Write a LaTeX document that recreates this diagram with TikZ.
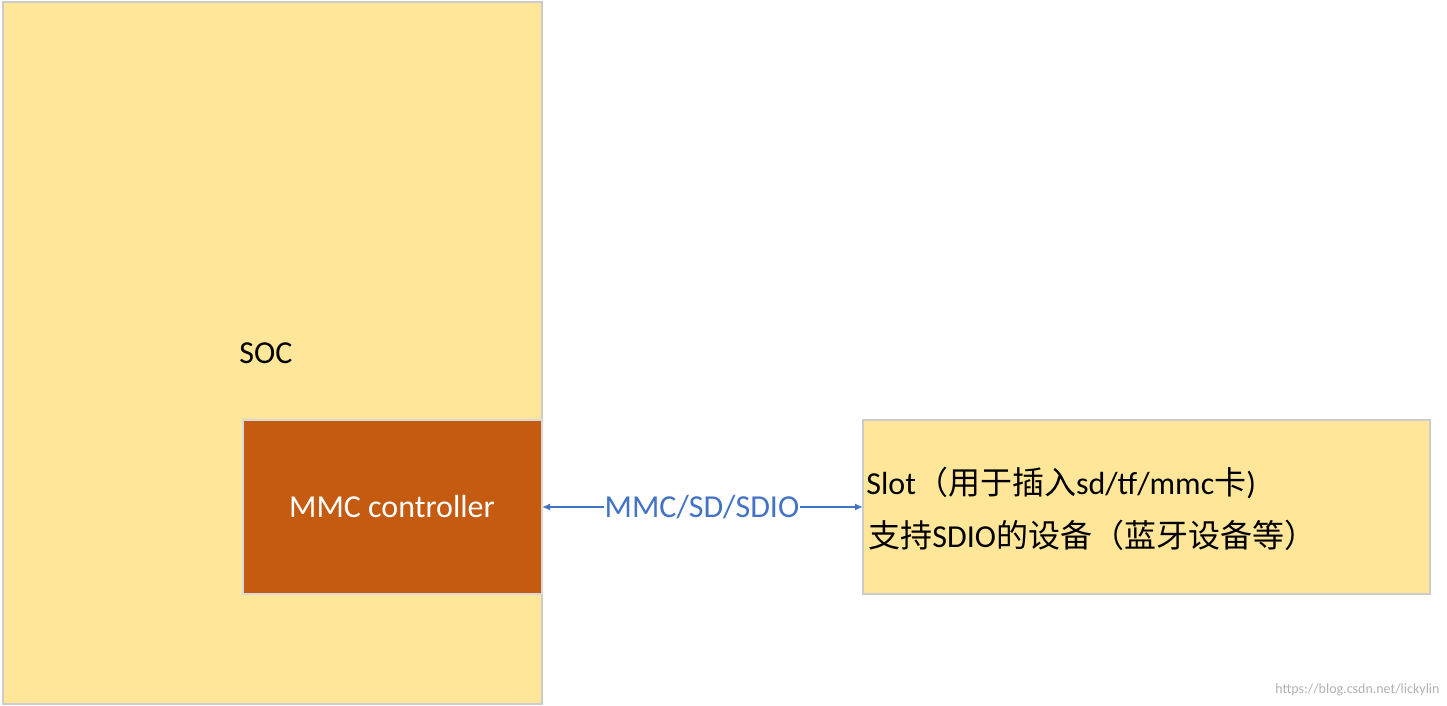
\documentclass[tikz,border=0pt]{standalone}
\usepackage{fontspec}
\usetikzlibrary{arrows.meta}
\setmainfont{Carlito}
\newfontfamily\cjk{Noto Sans CJK SC}
\definecolor{socfill}{HTML}{FFE699}
\definecolor{mmcfill}{HTML}{C55A11}
\definecolor{linkblue}{HTML}{4472C4}
\begin{document}
\begin{tikzpicture}[x=0.5pt,y=-0.5pt,
  box/.style={fill=socfill,draw=black!20,line width=0.6pt},
  lbl/.style={font=\fontsize{16}{19}\selectfont,inner sep=0pt}]
\useasboundingbox[fill=white] (0,0) rectangle (1447,706);
\draw[box] (3,2) rectangle (542,704);
\node[lbl,anchor=west] (soc) at (239,353) {SOC};
\draw[fill=mmcfill,draw=black!15,line width=0.6pt] (243,420) rectangle (542,594);
\node[lbl,white] (mmc) at (392,507) {MMC controller};
\coordinate (mmcE) at (542,507);
\draw[box] (863,420) rectangle (1430,594);
\coordinate (slotW) at (863,507);
\node[lbl,anchor=west] (s1) at (866,483) {Slot{\cjk （用于插入}sd/tf/mmc{\cjk 卡})};
\node[lbl,anchor=west] (s2) at (868,535) {{\cjk 支持}SDIO{\cjk 的设备（蓝牙设备等）}};
\node[lbl,linkblue] (bus) at (702,507) {MMC/SD/SDIO};
\draw[linkblue,line width=0.8pt,-{Latex[length=4pt,width=3.5pt]}] (bus.west) -- (mmcE);
\draw[linkblue,line width=0.8pt,-{Latex[length=4pt,width=3.5pt]}] (bus.east) -- (slotW);
\node[font=\fontsize{7}{8}\selectfont,black!30,anchor=south east,inner sep=0pt] (wm) at (1440,696) {https://blog.csdn.net/lickylin};
\end{tikzpicture}
\end{document}
